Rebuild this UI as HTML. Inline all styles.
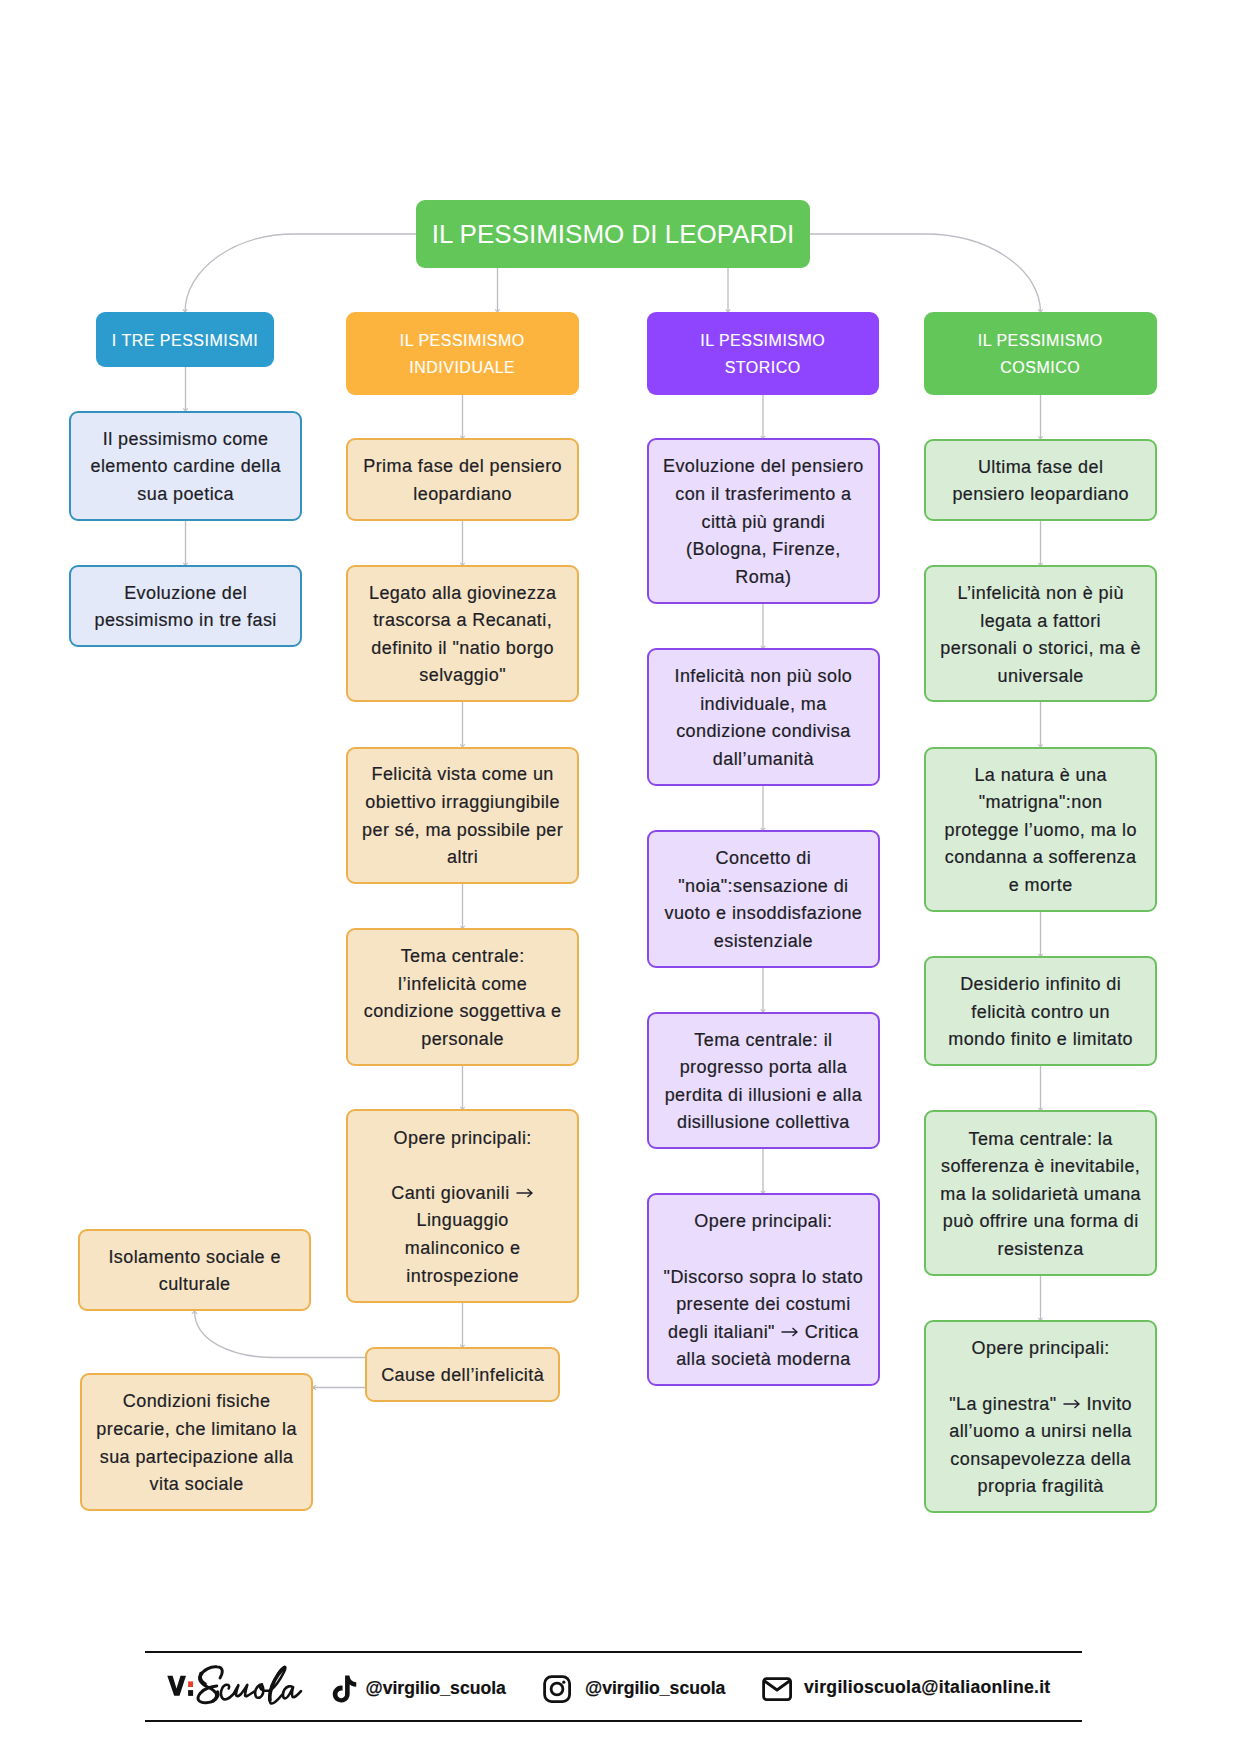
<!DOCTYPE html><html><head><meta charset="utf-8"><style>
*{margin:0;padding:0}
html,body{width:1240px;height:1754px;background:#fff;overflow:hidden}
body{position:relative;font-family:"Liberation Sans",sans-serif}
.bx{position:absolute;box-sizing:border-box;border-radius:9px;display:flex;align-items:center;justify-content:center;text-align:center;white-space:nowrap}
.title{background:#63c659;color:#fff;font-size:26px;line-height:30px;border-radius:9px}
.h{color:#fff;font-size:16px;line-height:27.6px;letter-spacing:0.5px;-webkit-text-stroke:0.15px #fff;padding-top:2px}
.blue{background:#2c9ccf}.orange{background:#fdb43e}.purple{background:#8f45fd}.green{background:#63c659}
.n{font-size:18px;line-height:27.6px;color:#211d26;letter-spacing:0.42px;border:2px solid;padding-top:2.5px;-webkit-text-stroke:0.2px #211d26}
.ar{display:inline-block;width:17px;height:10px;margin:0 1px;vertical-align:1px}
.lblue{background:#e3e9f9;border-color:#3592bf}
.lorange{background:#f6e4c4;border-color:#eeb04d}
.lpurple{background:#e9dcfd;border-color:#8a48ea}
.lgreen{background:#d8ecd6;border-color:#6cc060}
svg.lines{position:absolute;left:0;top:0}
.ft{position:absolute;font-family:"Liberation Sans",sans-serif;font-weight:bold;font-size:17.6px;color:#111;white-space:nowrap;line-height:20px;-webkit-text-stroke:0.2px #111}
</style></head><body>
<svg class="lines" width="1240" height="1754" viewBox="0 0 1240 1754"><g fill="none" stroke="#bcbcc4" stroke-width="1.35">
<path d="M416,234 H295 C234.3,234 185,269 185,312.5"/>
<path d="M810,234 H925 C988.5,234 1040.5,269 1040.5,312.5"/>
<path d="M497.5,268 V312.5"/>
<path d="M728,268 V312.5"/>
<path d="M185.5,367 V411.5"/>
<path d="M185.5,520 V566"/>
<path d="M462.5,394.5 V439"/>
<path d="M462.5,520 V566"/>
<path d="M462.5,701 V747.5"/>
<path d="M462.5,883 V929"/>
<path d="M462.5,1065 V1110"/>
<path d="M462.5,1302 V1348"/>
<path d="M763,394.5 V439"/>
<path d="M763,603 V649"/>
<path d="M763,785 V831"/>
<path d="M763,967 V1012.5"/>
<path d="M763,1148.5 V1194"/>
<path d="M1040.5,394.5 V439.5"/>
<path d="M1040.5,520.5 V566"/>
<path d="M1040.5,701.5 V747.5"/>
<path d="M1040.5,911 V957"/>
<path d="M1040.5,1065 V1111"/>
<path d="M1040.5,1275.5 V1321"/>
<path d="M366,1357.5 H275 C230,1357.5 194.5,1340 194.5,1311"/>
<path d="M366,1387.5 H312.5"/>
<path stroke-width="1.1" d="M495.3,309.3 L497.5,312.0 L499.7,309.3 M725.8,309.3 L728.0,312.0 L730.2,309.3 M183.3,408.3 L185.5,411.0 L187.7,408.3 M183.3,562.8 L185.5,565.5 L187.7,562.8 M460.3,435.8 L462.5,438.5 L464.7,435.8 M460.3,562.8 L462.5,565.5 L464.7,562.8 M460.3,744.3 L462.5,747.0 L464.7,744.3 M460.3,925.8 L462.5,928.5 L464.7,925.8 M460.3,1106.8 L462.5,1109.5 L464.7,1106.8 M460.3,1344.8 L462.5,1347.5 L464.7,1344.8 M760.8,435.8 L763.0,438.5 L765.2,435.8 M760.8,645.8 L763.0,648.5 L765.2,645.8 M760.8,827.8 L763.0,830.5 L765.2,827.8 M760.8,1009.3 L763.0,1012.0 L765.2,1009.3 M760.8,1190.8 L763.0,1193.5 L765.2,1190.8 M1038.3,436.3 L1040.5,439.0 L1042.7,436.3 M1038.3,562.8 L1040.5,565.5 L1042.7,562.8 M1038.3,744.3 L1040.5,747.0 L1042.7,744.3 M1038.3,953.8 L1040.5,956.5 L1042.7,953.8 M1038.3,1107.8 L1040.5,1110.5 L1042.7,1107.8 M1038.3,1317.8 L1040.5,1320.5 L1042.7,1317.8 M182.8,309.3 L185,312.0 L187.2,309.3 M1038.3,309.3 L1040.5,312.0 L1042.7,309.3 M197.2,1314 L194.5,1311 L191.8,1314 M316,1385.3 L312.8,1387.5 L316,1389.7"/>
</g></svg>
<div class="bx title" style="left:416px;top:200px;width:394px;height:68px"><div>IL PESSIMISMO DI LEOPARDI</div></div>
<div class="bx h blue" style="left:96.0px;top:312.0px;width:178.0px;height:55.0px"><div>I TRE PESSIMISMI</div></div>
<div class="bx h orange" style="left:346.0px;top:312.0px;width:232.5px;height:82.5px"><div>IL PESSIMISMO<br>INDIVIDUALE</div></div>
<div class="bx h purple" style="left:646.5px;top:312.0px;width:232.5px;height:82.5px"><div>IL PESSIMISMO<br>STORICO</div></div>
<div class="bx h green" style="left:923.5px;top:312.0px;width:233.5px;height:82.5px"><div>IL PESSIMISMO<br>COSMICO</div></div>
<div class="bx n lblue" style="left:68.9px;top:410.8px;width:233.5px;height:110.2px"><div>Il pessimismo come<br>elemento cardine della<br>sua poetica</div></div>
<div class="bx n lblue" style="left:68.9px;top:565.3px;width:233.5px;height:81.7px"><div>Evoluzione del<br>pessimismo in tre fasi</div></div>
<div class="bx n lorange" style="left:345.9px;top:438.3px;width:233.5px;height:82.7px"><div>Prima fase del pensiero<br>leopardiano</div></div>
<div class="bx n lorange" style="left:345.9px;top:565.3px;width:233.5px;height:136.7px"><div>Legato alla giovinezza<br>trascorsa a Recanati,<br>definito il "natio borgo<br>selvaggio"</div></div>
<div class="bx n lorange" style="left:345.9px;top:746.8px;width:233.5px;height:137.2px"><div>Felicità vista come un<br>obiettivo irraggiungibile<br>per sé, ma possibile per<br>altri</div></div>
<div class="bx n lorange" style="left:345.9px;top:928.3px;width:233.5px;height:137.7px"><div>Tema centrale:<br>l’infelicità come<br>condizione soggettiva e<br>personale</div></div>
<div class="bx n lorange" style="left:345.9px;top:1109.3px;width:233.5px;height:193.7px"><div>Opere principali:<br><br>Canti giovanili <svg class="ar" viewBox="0 0 17 10"><path d="M0.5,5 H16 M11.5,1 L16,5 L11.5,9" fill="none" stroke="#221f2c" stroke-width="1.4"/></svg><br>Linguaggio<br>malinconico e<br>introspezione</div></div>
<div class="bx n lpurple" style="left:646.9px;top:438.3px;width:233.0px;height:165.7px"><div>Evoluzione del pensiero<br>con il trasferimento a<br>città più grandi<br>(Bologna, Firenze,<br>Roma)</div></div>
<div class="bx n lpurple" style="left:646.9px;top:648.3px;width:233.0px;height:137.7px"><div>Infelicità non più solo<br>individuale, ma<br>condizione condivisa<br>dall’umanità</div></div>
<div class="bx n lpurple" style="left:646.9px;top:830.3px;width:233.0px;height:137.7px"><div>Concetto di<br>"noia":sensazione di<br>vuoto e insoddisfazione<br>esistenziale</div></div>
<div class="bx n lpurple" style="left:646.9px;top:1011.8px;width:233.0px;height:137.7px"><div>Tema centrale: il<br>progresso porta alla<br>perdita di illusioni e alla<br>disillusione collettiva</div></div>
<div class="bx n lpurple" style="left:646.9px;top:1193.3px;width:233.0px;height:193.2px"><div>Opere principali:<br><br>"Discorso sopra lo stato<br>presente dei costumi<br>degli italiani" <svg class="ar" viewBox="0 0 17 10"><path d="M0.5,5 H16 M11.5,1 L16,5 L11.5,9" fill="none" stroke="#221f2c" stroke-width="1.4"/></svg> Critica<br>alla società moderna</div></div>
<div class="bx n lgreen" style="left:924.4px;top:438.8px;width:232.5px;height:82.7px"><div>Ultima fase del<br>pensiero leopardiano</div></div>
<div class="bx n lgreen" style="left:924.4px;top:565.3px;width:232.5px;height:137.2px"><div>L’infelicità non è più<br>legata a fattori<br>personali o storici, ma è<br>universale</div></div>
<div class="bx n lgreen" style="left:924.4px;top:746.8px;width:232.5px;height:165.2px"><div>La natura è una<br>"matrigna":non<br>protegge l’uomo, ma lo<br>condanna a sofferenza<br>e morte</div></div>
<div class="bx n lgreen" style="left:924.4px;top:956.3px;width:232.5px;height:109.7px"><div>Desiderio infinito di<br>felicità contro un<br>mondo finito e limitato</div></div>
<div class="bx n lgreen" style="left:924.4px;top:1110.3px;width:232.5px;height:166.2px"><div>Tema centrale: la<br>sofferenza è inevitabile,<br>ma la solidarietà umana<br>può offrire una forma di<br>resistenza</div></div>
<div class="bx n lgreen" style="left:924.4px;top:1320.3px;width:232.5px;height:193.2px"><div>Opere principali:<br><br>"La ginestra" <svg class="ar" viewBox="0 0 17 10"><path d="M0.5,5 H16 M11.5,1 L16,5 L11.5,9" fill="none" stroke="#221f2c" stroke-width="1.4"/></svg> Invito<br>all’uomo a unirsi nella<br>consapevolezza della<br>propria fragilità</div></div>
<div class="bx n lorange" style="left:365.4px;top:1347.3px;width:194.5px;height:54.7px"><div>Cause dell’infelicità</div></div>
<div class="bx n lorange" style="left:77.9px;top:1228.8px;width:233.5px;height:82.7px"><div>Isolamento sociale e<br>culturale</div></div>
<div class="bx n lorange" style="left:79.9px;top:1373.3px;width:233.5px;height:138.2px"><div>Condizioni fisiche<br>precarie, che limitano la<br>sua partecipazione alla<br>vita sociale</div></div>
<div style="position:absolute;left:145px;top:1651px;width:937px;height:2px;background:#111"></div>
<div style="position:absolute;left:145px;top:1719.5px;width:937px;height:2px;background:#111"></div>
<svg style="position:absolute;left:160px;top:1655px" width="150" height="60" viewBox="160 1655 150 60">
<polygon points="167.3,1675.7 172.6,1675.7 176.5,1688.6 180.5,1675.7 186,1675.7 179.5,1695.8 174.2,1695.8" fill="#111"/>
<rect x="188.1" y="1681.4" width="5" height="5.6" fill="#e8402a"/>
<rect x="188.1" y="1690.1" width="5" height="5.8" fill="#111"/>
<g fill="none" stroke="#111" stroke-linecap="round" stroke-linejoin="round">
<path stroke-width="2.9" d="M220,1678 C223,1673 224,1667.5 217,1666.8 C211,1666 203,1670 200,1676 C198,1681 203,1685 209.5,1688 C216,1691 218.5,1695 215,1699.5 C211,1703.5 201,1704 198.5,1700 C196.5,1696 202,1690 208,1688 C211,1687 214,1686.3 216.8,1686"/>
<path stroke-width="2.6" d="M228.7,1688.5 C230,1686 228.5,1684.5 226.5,1684.7 C223,1685 220.5,1690 221,1694.5 C221.5,1699 224,1700 227,1699 C230,1698 232,1695.5 233.5,1694 C235,1691.5 237,1687 238.4,1685.2 C237,1689 236,1692.5 236,1694.8 C236.5,1697 238.5,1696.5 241,1694 C243.5,1691 246,1687 247.3,1684.8 C246,1689 245,1693 245.1,1695.5 C245.5,1697.5 249,1695 254.1,1691.6"/>
<path stroke-width="2.6" d="M262,1684.3 C258.5,1684.5 255.5,1688.5 255.2,1692 C255,1695.5 256,1697.8 258,1697.8 C261,1697.8 263.5,1694.5 263.3,1690.5 C263.2,1687 262.5,1684.3 260.5,1685 C259.5,1686 260,1688 261.5,1689.5 C263.5,1691 267,1691 270.5,1690.5 C276,1686 281,1678 284,1672 C286,1668 285.5,1666.5 284.5,1667 C281,1668 275.5,1677 272,1686 C269.5,1693 268.5,1700 270.5,1703 C272.5,1705 277,1701 281.8,1695"/>
<path stroke-width="2.6" d="M292.5,1687 C290.5,1685.5 287,1686 284.5,1689.5 C282.5,1692.5 282.5,1697.5 284.6,1698.4 C287,1699 290.5,1693 293.1,1687.1 C292,1691 291.5,1694.5 292.5,1696.7 C294,1698.5 298,1694.5 301,1691.1"/>
<path stroke-width="3.6" d="M284.2,1668.5 C281,1670 275.5,1677 272,1686 C270,1692 269.5,1697 270,1700"/>
<path stroke-width="3.6" d="M201,1673.5 C199,1678 201.5,1682 205,1684"/>
<path stroke-width="3.4" d="M217.5,1692 C218.5,1695 217,1698.5 213,1701"/>
</g>
</svg>
<svg style="position:absolute;left:331px;top:1675px" width="27" height="28" viewBox="0 0 24 24"><path fill="#111" d="M12.525.02c1.31-.02 2.61-.01 3.910-.02.08 1.53.63 3.09 1.75 4.17 1.12 1.11 2.7 1.62 4.24 1.79v4.03c-1.44-.05-2.89-.35-4.2-.97-.57-.26-1.1-.59-1.62-.93-.01 2.92.01 5.84-.02 8.75-.08 1.4-.54 2.79-1.35 3.94-1.31 1.92-3.58 3.17-5.91 3.21-1.43.08-2.86-.31-4.08-1.03-2.02-1.19-3.44-3.37-3.65-5.71-.02-.5-.03-1-.01-1.49.18-1.9 1.12-3.72 2.58-4.96 1.66-1.44 3.98-2.13 6.15-1.72.02 1.48-.04 2.96-.04 4.44-.99-.32-2.15-.23-3.02.37-.63.41-1.11 1.04-1.36 1.75-.21.51-.15 1.07-.14 1.61.24 1.64 1.82 3.02 3.5 2.87 1.12-.01 2.19-.66 2.77-1.61.19-.33.4-.67.41-1.06.1-1.79.06-3.57.07-5.36.01-4.030-.01-8.05.02-12.07z"/></svg>
<svg style="position:absolute;left:542px;top:1674px" width="30" height="30" viewBox="0 0 30 30"><rect x="2.6" y="2.6" width="25" height="25" rx="7" fill="none" stroke="#111" stroke-width="2.8"/><circle cx="15" cy="15" r="5.9" fill="none" stroke="#111" stroke-width="2.8"/><circle cx="21.8" cy="8.2" r="1.6" fill="#111"/></svg>
<svg style="position:absolute;left:761px;top:1676px" width="32" height="26" viewBox="0 0 32 26"><rect x="2.6" y="2.6" width="27" height="21" rx="3" fill="none" stroke="#111" stroke-width="2.8"/><path d="M3.5,5 L16,14 L28.5,5" fill="none" stroke="#111" stroke-width="2.8" stroke-linejoin="round"/></svg>
<div class="ft" style="left:365.5px;top:1678px">@virgilio_scuola</div>
<div class="ft" style="left:585px;top:1678px">@virgilio_scuola</div>
<div class="ft" style="left:804px;top:1676.5px;letter-spacing:0.28px">virgilioscuola@italiaonline.it</div>

</body></html>
